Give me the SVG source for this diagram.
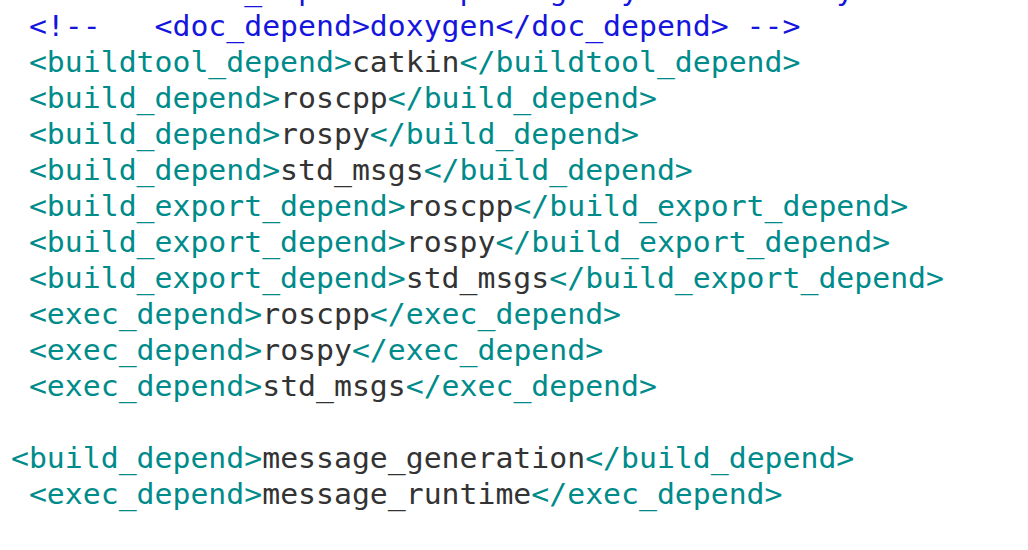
<svg xmlns="http://www.w3.org/2000/svg" width="1028" height="550" viewBox="0 0 1028 550">
<style>
text{font-family:"DejaVu Sans Mono","Liberation Mono",monospace;font-size:28px;white-space:pre}
.t{fill:#008b8b}.d{fill:#333333}.c{fill:#1515dd}
</style>
<rect width="1028" height="550" fill="#ffffff"/>
<g transform="scale(1.065,1)" xml:space="preserve">
<g id="code">
<text x="10.33" y="0" class="c"> &lt;!-- Use doc_depend for packages you need only for building documentation: --&gt;</text>
<text x="10.33" y="36" class="c"> &lt;!--   &lt;doc_depend&gt;doxygen&lt;/doc_depend&gt; --&gt;</text>
<text x="10.33" y="72" class="t"> &lt;buildtool_depend&gt;<tspan class="d">catkin</tspan>&lt;/buildtool_depend&gt;</text>
<text x="10.33" y="108" class="t"> &lt;build_depend&gt;<tspan class="d">roscpp</tspan>&lt;/build_depend&gt;</text>
<text x="10.33" y="144" class="t"> &lt;build_depend&gt;<tspan class="d">rospy</tspan>&lt;/build_depend&gt;</text>
<text x="10.33" y="180" class="t"> &lt;build_depend&gt;<tspan class="d">std_msgs</tspan>&lt;/build_depend&gt;</text>
<text x="10.33" y="216" class="t"> &lt;build_export_depend&gt;<tspan class="d">roscpp</tspan>&lt;/build_export_depend&gt;</text>
<text x="10.33" y="252" class="t"> &lt;build_export_depend&gt;<tspan class="d">rospy</tspan>&lt;/build_export_depend&gt;</text>
<text x="10.33" y="288" class="t"> &lt;build_export_depend&gt;<tspan class="d">std_msgs</tspan>&lt;/build_export_depend&gt;</text>
<text x="10.33" y="324" class="t"> &lt;exec_depend&gt;<tspan class="d">roscpp</tspan>&lt;/exec_depend&gt;</text>
<text x="10.33" y="360" class="t"> &lt;exec_depend&gt;<tspan class="d">rospy</tspan>&lt;/exec_depend&gt;</text>
<text x="10.33" y="396" class="t"> &lt;exec_depend&gt;<tspan class="d">std_msgs</tspan>&lt;/exec_depend&gt;</text>
<text x="10.33" y="468" class="t">&lt;build_depend&gt;<tspan class="d">message_generation</tspan>&lt;/build_depend&gt;</text>
<text x="10.33" y="504" class="t"> &lt;exec_depend&gt;<tspan class="d">message_runtime</tspan>&lt;/exec_depend&gt;</text>
</g>
</g>
</svg>
